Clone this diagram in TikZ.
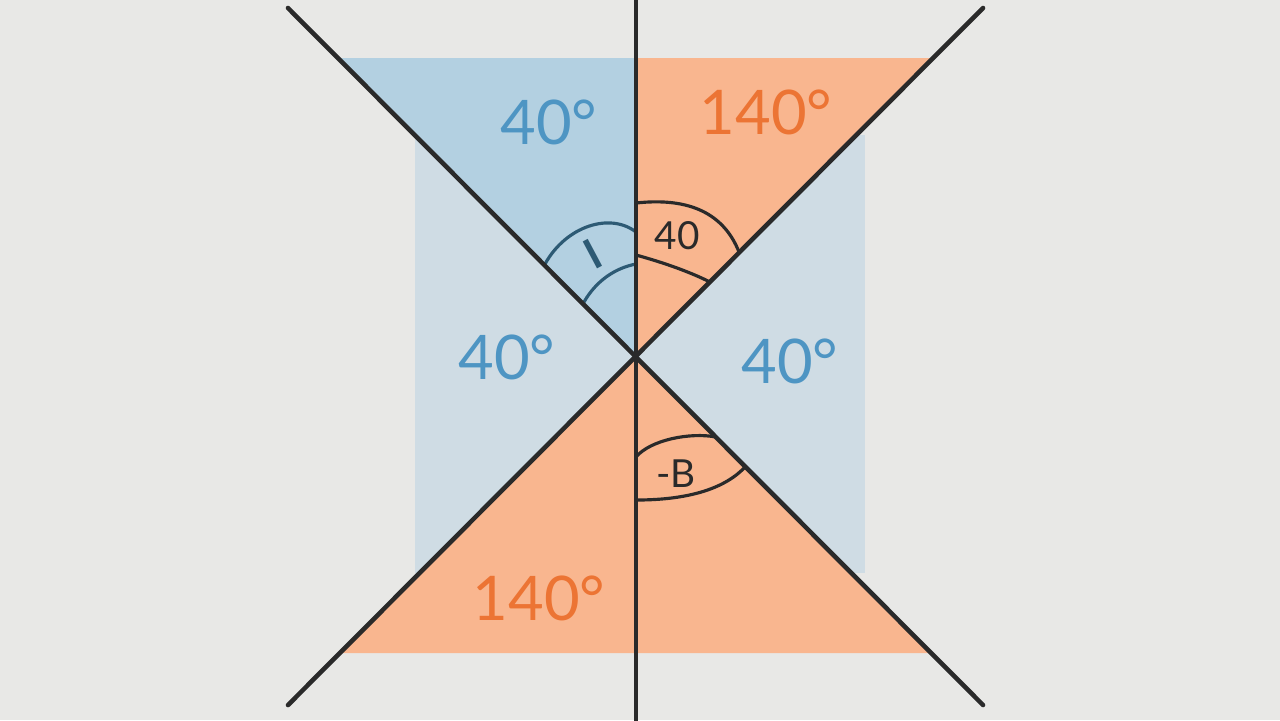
\documentclass[tikz,border=0pt]{standalone}
\usepackage{fontspec}
\setmainfont{Lato}
\definecolor{bg}{HTML}{E8E8E6}
\definecolor{bluedark}{HTML}{B3D0E1}
\definecolor{bluelight}{HTML}{CFDCE4}
\definecolor{orangefill}{HTML}{F9B68F}
\definecolor{bluetext}{HTML}{4E95C3}
\definecolor{orangetext}{HTML}{EC7434}
\definecolor{linecol}{HTML}{2A2A2A}
\definecolor{bluearc}{HTML}{2D5A74}
\tikzset{
  ray/.style={draw=linecol, line width=1.3pt, line cap=round},
  bluemark/.style={draw=bluearc, line width=0.9pt},
  blackmark/.style={draw=linecol, line width=0.9pt},
  bigblue/.style={text=bluetext, font=\fontsize{17.5}{17.5}\selectfont, inner sep=0pt},
  bigorange/.style={text=orangetext, font=\fontsize{17.5}{17.5}\selectfont, inner sep=0pt},
  handlabel/.style={text=linecol, font=\fontsize{11}{11}\selectfont, inner sep=0pt}
}
\begin{document}
\begin{tikzpicture}[x=0.01cm,y=-0.01cm]
\useasboundingbox (0,0) rectangle (1280,720);
\fill[bg] (0,0) rectangle (1280,720);
% fills
\fill[bluelight] (415,135) rectangle (865,573);
\fill[bluedark] (338,58) -- (636,58) -- (636,357) -- cycle;
\fill[orangefill] (636,58) -- (932,58) -- (636,357) -- cycle;
\fill[orangefill] (636,357) -- (340,653) -- (929,653) -- cycle;
% lines
\coordinate (d1a) at (288,8);
\coordinate (d1b) at (983,705);
\coordinate (d2a) at (983,8);
\coordinate (d2b) at (288,705);
\coordinate (va) at (636,-5);
\coordinate (vb) at (636,725);
% angle marks
\draw[bluemark] (545,264) .. controls (566,226) and (610,212) .. (636,232);
\draw[bluemark] (584,302) .. controls (596,281) and (615,268) .. (636,264);
\draw[blackmark] (636,203) .. controls (690,197) and (724,214) .. (739,252);
\draw[blackmark] (636,255) .. controls (665,263) and (690,272) .. (710,282);
\draw[blackmark] (636,457) .. controls (650,440) and (690,432) .. (716,437);
\draw[blackmark] (636,500) .. controls (690,500) and (726,488) .. (746,466);
\draw[ray] (d1a) -- (d1b);
\draw[ray] (d2a) -- (d2b);
\draw[ray] (va) -- (vb);
% labels
\node[bigblue] (tl) at (549,122) {40°};
\node[bigorange] (tr) at (766,112) {140°};
\node[bigblue] (ml) at (507,357) {40°};
\node[bigblue] (mr) at (790,361) {40°};
\node[bigorange] (bl) at (539,598) {140°};
\node[handlabel, text=bluearc, rotate=28, font=\fontsize{12}{12}\selectfont\bfseries] (one) at (593,254) {I};
\node[handlabel] (forty) at (677,236) {40};
\node[handlabel] (mb) at (676,474) {-B};
\end{tikzpicture}
\end{document}
